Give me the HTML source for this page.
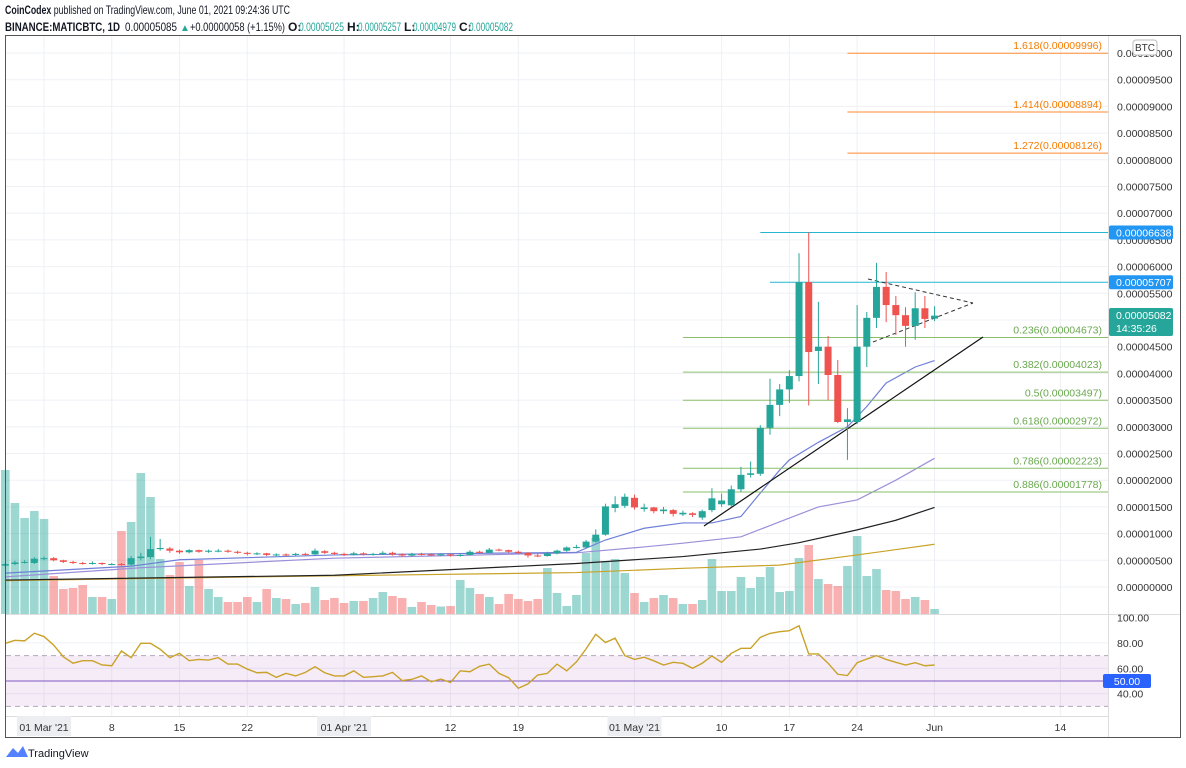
<!DOCTYPE html>
<html><head><meta charset="utf-8"><style>
html,body{margin:0;padding:0;background:#fff;}
svg{display:block;font-family:"Liberation Sans",sans-serif;}
</style></head><body>
<svg id="chart" width="1186" height="768" viewBox="0 0 1186 768" xmlns="http://www.w3.org/2000/svg">
<rect x="0" y="0" width="1186" height="768" fill="#fff"/>
<g font-size="12" fill="#131722">
<text x="5" y="14" textLength="285" lengthAdjust="spacingAndGlyphs"><tspan font-weight="bold">CoinCodex</tspan> published on TradingView.com, June 01, 2021 09:24:36 UTC</text>
<text x="5" y="31" font-weight="bold" textLength="115" lengthAdjust="spacingAndGlyphs">BINANCE:MATICBTC, 1D</text>
<text x="125" y="31" textLength="52" lengthAdjust="spacingAndGlyphs">0.00005085</text>
<text x="180" y="31" fill="#26a69a" font-size="10">▲</text>
<text x="190" y="31" textLength="95" lengthAdjust="spacingAndGlyphs">+0.00000058 (+1.15%)</text>
<text x="288" y="31" font-weight="bold">O:</text><text x="299" y="31" fill="#26a69a" textLength="45" lengthAdjust="spacingAndGlyphs">0.00005025</text>
<text x="347" y="31" font-weight="bold">H:</text><text x="358" y="31" fill="#26a69a" textLength="43" lengthAdjust="spacingAndGlyphs">0.00005257</text>
<text x="404" y="31" font-weight="bold">L:</text><text x="413" y="31" fill="#26a69a" textLength="43" lengthAdjust="spacingAndGlyphs">0.00004979</text>
<text x="459" y="31" font-weight="bold">C:</text><text x="469" y="31" fill="#26a69a" textLength="44" lengthAdjust="spacingAndGlyphs">0.00005082</text>
</g>
<g id="grid"></g>
<g id="rsi-pane"></g>
<g id="plot"></g>
<g id="axes"></g>
<rect x="5.5" y="35.5" width="1175" height="702" fill="none" stroke="#555" stroke-width="1"/>
<g>
<path d="M6 757 L13 748 L18 753 L23 746 L28 757 Z" fill="#2962ff" opacity="0.8"/>
<text x="28" y="757" font-size="11" fill="#131722">TradingView</text>
</g>
</svg>
<script>
// ===== data (days relative to 01 Mar 2021; price in 1e-6 BTC) =====
const days = []; for (let d = -4; d <= 92; d++) days.push(d);
const opens = [4.0,4.3,4.6,4.5,5.3,5.4,5.0,4.7,4.5,4.4,4.5,4.3,4.3,4.2,5.4,5.6,7.1,7.2,6.8,6.5,6.9,6.6,6.8,6.8,6.6,6.4,6.2,6.3,6.0,6.1,6.0,6.2,6.1,6.7,6.4,6.2,6.0,6.3,6.1,6.2,6.4,6.1,5.9,6.2,6.1,6.0,6.1,5.9,6.0,6.6,6.4,7.0,6.9,6.6,6.4,5.9,5.8,6.3,6.8,7.4,7.4,8.5,9.8,14.8,15.2,16.7,14.6,14.9,14.2,14.4,13.6,13.8,13.0,14.4,15.5,15.3,18.3,21.0,21.2,29.8,34.1,37.0,39.5,57.1,44.2,45.0,39.7,30.9,30.9,45.0,50.4,56.2,52.8,50.9,48.9,52.2,50.25];
const closes = [4.3,4.6,4.7,5.3,5.4,5.0,4.7,4.5,4.4,4.5,4.3,4.3,4.2,5.4,5.7,7.1,7.3,6.8,6.5,6.9,6.6,6.8,6.8,6.6,6.4,6.2,6.3,6.0,6.1,6.0,6.2,6.1,6.8,6.4,6.2,6.0,6.3,6.1,6.2,6.4,6.1,5.9,6.2,6.1,6.0,6.1,5.9,6.0,6.6,6.4,7.0,6.9,6.6,6.4,5.9,5.8,6.3,6.8,7.4,7.5,8.5,9.8,15.1,15.5,16.9,14.9,14.9,14.2,14.5,13.7,13.9,13.5,14.2,16.6,16.2,18.3,21.0,21.3,29.8,34.1,37.0,39.5,57.1,44.0,45.0,39.7,30.9,31.4,45.0,50.4,56.2,52.8,50.9,48.9,52.2,50.2,50.82];
const highs = [4.6,4.9,5.0,5.6,5.7,5.6,5.1,4.9,4.7,4.8,4.6,4.5,4.5,5.8,6.4,9.4,9.0,7.5,7.0,7.1,7.0,7.0,7.1,7.0,6.8,6.6,6.5,6.4,6.3,6.3,6.4,6.4,7.2,6.9,6.6,6.4,6.6,6.5,6.4,6.7,6.6,6.3,6.4,6.4,6.3,6.3,6.2,6.2,6.9,6.8,7.3,7.2,7.0,6.8,6.5,6.2,6.6,7.0,7.6,7.9,8.8,10.8,15.6,17.0,17.5,17.3,15.6,15.0,15.0,14.6,14.3,14.0,14.5,18.5,17.5,19.0,22.5,23.5,30.3,39.0,38.0,40.6,62.5,66.4,53.4,47.0,42.5,33.5,52.8,51.5,60.7,59.0,54.5,52.4,55.2,54.5,52.57];
const lows = [3.8,4.1,4.4,4.3,5.0,4.8,4.5,4.3,4.2,4.2,4.1,4.1,4.0,4.0,5.0,5.2,6.8,6.4,6.2,6.3,6.4,6.4,6.5,6.4,6.2,5.9,6.0,5.8,5.8,5.8,5.8,5.9,6.0,6.2,6.0,5.8,5.9,5.9,5.9,6.0,5.9,5.7,5.7,5.9,5.8,5.8,5.7,5.7,5.9,6.2,6.3,6.7,6.4,6.2,5.5,5.6,5.7,6.1,6.6,7.2,7.3,8.3,9.6,14.0,14.8,14.5,14.1,13.8,13.7,13.2,13.3,13.1,12.6,14.0,15.0,15.0,17.8,20.5,20.8,28.5,32.0,34.5,38.5,34.0,38.0,35.0,30.7,23.8,30.5,41.2,48.5,49.6,47.2,45.0,46.3,48.5,49.79];
const volumes = [144,111,96,103,95,38,25,26,29,17,17,15,83,92,141,117,55,39,52,28,54,25,17,12,12,17,12,25,16,15,10,11,27,14,16,11,13,13,16,22,18,16,7,12,9,7.5,8,34,26,20,17,10,20,15,13,15,46,21,8,19,61,76,53,55,41,21,12,16,19,16,10,10,14,55,23,23,37,26,37,47,22,23,56,69,35,30,28,48,78,38,45,24,23,15,17,14,5];
const rsi = [79.7,82,81.6,87.6,85,78.3,69,64,66,66,62.6,62,73.6,68.4,79.7,79.7,75,68.4,71.8,66,67,66.5,68.4,63.3,63.3,59.4,56.5,56.8,52.9,56,54,56.8,61.3,56.5,54,54,58,52.9,53.4,54,56.8,50.3,51.3,54,49.4,51.5,48.9,58,57.3,61.6,63.3,56,52.6,44.3,47.7,54.7,56,63.3,58,65,75.3,86.8,80.3,83.7,70,67,68.7,65.9,62.6,64.7,63.9,60,64,69.7,64.7,71.8,75.7,75.7,84.4,87.5,88.8,89.6,93.5,71.3,71.3,64,55.3,54.3,64.4,67.3,70,67,64.7,62.6,64.4,62,62.6];
const ma20Days = [-4,9,14,30,55,58,62,66,69,72,74,76,77,80,83,85,87,90,92];
const ma20Vals = [2.6,3.9,5.1,6.0,6.5,8.8,11,12,12,13.2,17.6,21.9,23.8,27.1,30,33.8,38.2,41.2,42.4];
const ma50Days = [-4,10,30,55,62,66,72,76,80,84,88,92];
const ma50Vals = [1.9,3.6,5.4,6.4,7.5,8.2,9.4,12.2,15,16.3,20,24.1];
const ma100Days = [-4,30,55,66,74,78,84,88,92];
const ma100Vals = [1.3,2.2,4.4,5.7,7.1,8.3,10.7,12.5,14.9];
const ma200Days = [-4,30,55,66,76,84,92];
const ma200Vals = [1.2,2.1,2.7,3.5,4.1,6.0,8.0];
const fibLabels = ["1.618","1.414","1.272","0.236","0.382","0.5","0.618","0.786","0.886"];
const fibValues = [99.96,88.94,81.26,46.73,40.23,34.97,29.72,22.23,17.78];
const fibStartDays = [83,83,83,66,66,66,66,66,66];
const hLineValues = [66.38,57.07];
const hLineStartDays = [74,75];
const priceTicks = [0,5,10,15,20,25,30,35,40,45,50,55,60,65,70,75,80,85,90,95,100];
const rsiTicks = [100,80,60,40];
const dateLabels = ["01 Mar '21","8","15","22","01 Apr '21","12","19","01 May '21","10","17","24","Jun","14"];
const dateDays = [0,7,14,21,31,42,49,61,70,77,84,92,105];

// ===== axis functions =====
const X = d => 44 + d * 9.68;
const Y = v => 587 - v * 5.34;
const VY = v => 614 - v * 1.0;
const RY = r => 681 - (r - 50) * 1.27;
const NS = "http://www.w3.org/2000/svg";
function mk(tag, attrs, parent) {
  const e = document.createElementNS(NS, tag);
  for (const k in attrs) e.setAttribute(k, attrs[k]);
  parent.appendChild(e); return e;
}
const grid = document.getElementById('grid');
const plot = document.getElementById('plot');
const axes = document.getElementById('axes');
const rsiG = document.getElementById('rsi-pane');

// grid
priceTicks.forEach(t => {
  const l = mk('line', {x1: 6, x2: 1108, y1: Y(t), y2: Y(t), stroke: '#eef0f5', 'stroke-width': 1}, grid);
  
  
});
dateDays.forEach(d => {
  const l = mk('line', {x1: X(d), x2: X(d), y1: 36, y2: 716, stroke: '#eef0f5', 'stroke-width': 1}, grid);
  
  
});
[RY(80), RY(60), RY(40)].forEach(yy => {
  const l = mk('line', {x1: 6, x2: 1108, y1: yy, y2: yy, stroke: '#eef0f5'}, grid);
  
  
});

// RSI pane
const band = mk('rect', {x: 6, y: RY(70), width: 1102, height: RY(30) - RY(70), fill: 'rgba(156,39,176,0.09)'}, rsiG);


[70, 30].forEach(r => {
  const l = mk('line', {x1: 6, x2: 1108, y1: RY(r), y2: RY(r), stroke: '#b0a8b8', 'stroke-dasharray': '5,4'}, rsiG);
  
  
});
const mid = mk('line', {x1: 6, x2: 1108, y1: RY(50), y2: RY(50), stroke: '#7e57c2', 'stroke-width': 1}, rsiG);


const rsiLine = mk('polyline', {points: days.map((d, i) => X(d) + ',' + RY(rsi[i])).join(' '), fill: 'none', stroke: '#c9a227', 'stroke-width': 1.4}, rsiG);



// volume
days.forEach((d, i) => {
  const up = closes[i] >= opens[i];
  const b = mk('rect', {x: X(d) - 4.3, y: VY(volumes[i]), width: 8.6, height: volumes[i] * 1.0, fill: up ? 'rgba(38,166,154,0.45)' : 'rgba(239,83,80,0.45)'}, plot);
  
  
});

// moving averages
function maLine(ds, vs, color, name) {
  const p = mk('polyline', {points: ds.map((d, i) => X(d) + ',' + Y(vs[i])).join(' '), fill: 'none', stroke: color, 'stroke-width': 1.2}, plot);
  
  
}
maLine(ma200Days, ma200Vals, '#c9a227', 'ma-200');
maLine(ma100Days, ma100Vals, '#222', 'ma-100');
maLine(ma50Days, ma50Vals, '#9c8fd9', 'ma-50');
maLine(ma20Days, ma20Vals, '#6f7fd8', 'ma-20');

// fib levels
fibValues.forEach((v, i) => {
  const ext = i < 3;
  const col = ext ? '#ff8a30' : '#8bbf6a';
  const tcol = ext ? '#f57c00' : '#6aa84f';
  const l = mk('line', {x1: X(fibStartDays[i]), x2: 1108, y1: Y(v), y2: Y(v), stroke: col, 'stroke-width': 1}, plot);
  
  
  const t = mk('text', {x: 1102, y: Y(v) - 4, 'text-anchor': 'end', 'font-size': 10.5, fill: tcol}, plot);
  t.textContent = fibLabels[i] + '(' + (v / 1e6).toFixed(8) + ')';
  
  
});
hLineValues.forEach((v, i) => {
  const l = mk('line', {x1: X(hLineStartDays[i]), x2: 1108, y1: Y(v), y2: Y(v), stroke: '#26b5cf', 'stroke-width': 1}, plot);
  
  
});

// trend line + triangle
const tl = mk('line', {x1: 704, y1: 526, x2: 983, y2: 337, stroke: '#111', 'stroke-width': 1.2}, plot);


const tri1 = mk('line', {x1: 868, y1: 279, x2: 973, y2: 303, stroke: '#333', 'stroke-width': 1, 'stroke-dasharray': '4,3'}, plot);


const tri2 = mk('line', {x1: 873, y1: 342, x2: 973, y2: 303, stroke: '#333', 'stroke-width': 1, 'stroke-dasharray': '4,3'}, plot);



// candles
days.forEach((d, i) => {
  const up = closes[i] >= opens[i];
  const col = up ? '#26a69a' : '#ef5350';
  const cx = X(d);
  const w = mk('line', {x1: cx, x2: cx, y1: Y(highs[i]), y2: Y(lows[i]), stroke: col, 'stroke-width': 1}, plot);
  
  
  const top = Y(Math.max(opens[i], closes[i]));
  const h = Math.max(1, Math.abs(Y(opens[i]) - Y(closes[i])));
  const b = mk('rect', {x: cx - 3.5, y: top, width: 7, height: h, fill: col}, plot);
  
  
});

// axes chrome
const sep = mk('line', {x1: 1108.5, x2: 1108.5, y1: 36, y2: 737, stroke: '#ddd'}, axes);


const psep = mk('line', {x1: 6, x2: 1180, y1: 614.5, y2: 614.5, stroke: '#ddd'}, axes);


const tsep = mk('line', {x1: 6, x2: 1108, y1: 716.5, y2: 716.5, stroke: '#ddd'}, axes);


priceTicks.forEach(t => {
  const tx = mk('text', {x: 1117, y: Y(t) + 4, 'font-size': 10.5, fill: '#333'}, axes);
  tx.textContent = (t / 1e6).toFixed(8);
  
  
});
rsiTicks.forEach(r => {
  const tx = mk('text', {x: 1117, y: RY(r) + 4, 'font-size': 10.5, fill: '#333'}, axes);
  tx.textContent = r.toFixed(2);
  
  
});
dateLabels.forEach((lab, i) => {
  const cx = X(dateDays[i]);
  if (lab.length > 4) {
    const bg = mk('rect', {x: cx - 27, y: 716, width: 54, height: 20, fill: '#eceef2'}, axes);
    
    
  }
  const tx = mk('text', {x: cx, y: 731, 'font-size': 10.5, fill: '#333', 'text-anchor': 'middle'}, axes);
  tx.textContent = lab;
  
  
});
// price badges
function badge(yc, h, fill, lines, name) {
  const r = mk('rect', {x: 1109, y: yc - h / 2, width: 64, height: h, rx: 2, fill: fill}, axes);
  
  
  lines.forEach((s, k) => {
    const t = mk('text', {x: 1116, y: yc - h / 2 + 11 + k * 13, 'font-size': 10.5, fill: '#fff'}, axes);
    t.textContent = s;
    
    
  });
}
badge(Y(66.38), 14, '#2196f3', ['0.00006638'], 'level-badge-high');
badge(Y(57.07), 14, '#2196f3', ['0.00005707'], 'level-badge-resistance');
badge(322, 28, '#26a69a', ['0.00005082', '14:35:26'], 'last-price-badge');
const rb = mk('rect', {x: 1103, y: RY(50) - 7, width: 48, height: 14, rx: 2, fill: '#2962ff'}, axes);


const rbt = mk('text', {x: 1127, y: RY(50) + 4, 'font-size': 10.5, fill: '#fff', 'text-anchor': 'middle'}, axes);
rbt.textContent = '50.00';


const cb = mk('rect', {x: 1133, y: 40, width: 24, height: 15, rx: 3, fill: '#fff', stroke: '#bbb'}, axes);


const cbt = mk('text', {x: 1145, y: 51, 'font-size': 10, fill: '#333', 'text-anchor': 'middle'}, axes);
cbt.textContent = 'BTC';


</script>
</body></html>
